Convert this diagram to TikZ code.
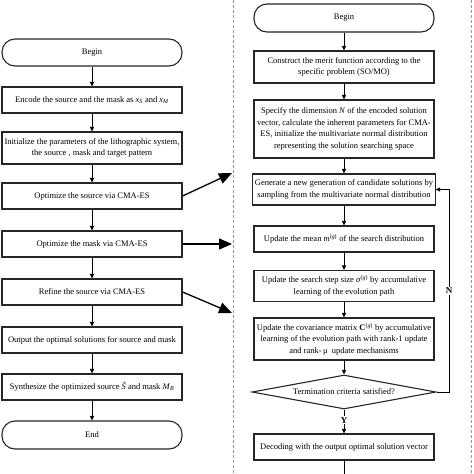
\documentclass[tikz,border=0pt]{standalone}
\usepackage{fontspec}
\setmainfont{Liberation Serif}
\usetikzlibrary{arrows.meta,shapes.geometric}
\begin{document}
\begin{tikzpicture}[x=1pt,y=-1pt,
  box/.style={draw=black!85, line width=1.1pt, rectangle, minimum width=180pt, align=center, inner sep=2pt, fill=white, font=\fontsize{8.5}{11.5}\selectfont},
  term/.style={box, rounded corners=13pt},
  dec/.style={draw=black!85, line width=1.1pt, diamond, minimum width=184pt, minimum height=34pt, inner sep=0pt, aspect=5, align=center, fill=white, font=\fontsize{8.5}{11.5}\selectfont},
  flow/.style={-{Triangle[length=4.5pt,width=4pt]}, line width=0.9pt},
  big/.style={-{Triangle[length=13pt,width=11pt]}, line width=1.3pt},
  guide/.style={draw=black!40, dash pattern=on 3pt off 2pt, line width=0.8pt},
  lab/.style={fill=white, inner sep=1pt, font=\fontsize{9}{10}\selectfont\bfseries}]
\useasboundingbox (0,0) rectangle (474,474);
\fill[white] (0,0) rectangle (474,474);
% guide lines
\draw[guide] (233,0) -- (233,474);
\draw[guide] (471,0) -- (471,474);
% left chart
\node[term, minimum height=27pt] (lb) at (92,52.5) {Begin};
\node[box, minimum height=26pt] (l1) at (92,100) {Encode the source and the mask as \textit{x}\textsubscript{\textit{S}} and \textit{x}\textsubscript{\textit{M}}};
\node[box, minimum height=32pt] (l2) at (92,148) {Initialize the parameters of the lithographic system,\\ the source , mask and target pattern};
\node[box, minimum height=26pt] (l3) at (92,196) {Optimize the source via CMA-ES};
\node[box, minimum height=26pt] (l4) at (92,244) {Optimize the mask via CMA-ES};
\node[box, minimum height=26pt] (l5) at (92,292) {Refine the source via CMA-ES};
\node[box, minimum height=26pt] (l6) at (92,340) {Output the optimal solutions for source and mask};
\node[box, minimum height=26pt] (l7) at (92,387) {Synthesize the optimized source \textit{Ŝ} and mask \textit{M}\textsubscript{\textit{B}}};
\node[term, minimum height=28pt] (le) at (92,435) {End};
\draw[flow] (lb) -- (l1);
\draw[flow] (l1) -- (l2);
\draw[flow] (l2) -- (l3);
\draw[flow] (l3) -- (l4);
\draw[flow] (l4) -- (l5);
\draw[flow] (l5) -- (l6);
\draw[flow] (l6) -- (l7);
\draw[flow] (l7) -- (le);
% big arrows
\coordinate (t1) at (232,173);
\coordinate (t2) at (232,244);
\coordinate (t3) at (232,313);
\draw[big] (l3.east) -- (t1);
\draw[big] (l4.east) -- (t2);
\draw[big] (l5.east) -- (t3);
% right chart
\node[term, minimum height=28pt] (rb) at (344,18) {Begin};
\node[box, minimum height=32pt] (r1) at (344,67) {Construct the merit function according to the\\ specific problem (SO/MO)};
\node[box, minimum height=58pt] (r2) at (344,129) {Specify the dimension \textit{N} of the encoded solution\\ vector, calculate the inherent parameters for CMA-\\ES, initialize the multivariate normal distribution\\ representing the solution searching space};
\node[box, minimum height=31pt] (r3) at (344,189.5) {Generate a new generation of candidate solutions by\\ sampling from the multivariate normal distribution};
\node[box, minimum height=26pt] (r4) at (344,239) {Update the mean \textit{m}\textsuperscript{(\textit{g})} of the search distribution};
\node[box, minimum height=31pt] (r5) at (344,286) {Update the search step size \textit{σ}\textsuperscript{(\textit{g})} by accumulative\\ learning of the evolution path};
\node[box, minimum height=42pt] (r6) at (344,339) {Update the covariance matrix \textbf{C}\textsuperscript{(\textit{g})} by accumulative\\ learning of the evolution path with rank-1 update\\ and rank-\,μ\ \ update mechanisms};
\node[dec] (rd) at (344,392) {Termination criteria satisfied?};
\node[box, minimum height=26pt] (r7) at (344,447) {Decoding with the output optimal solution vector};
\coordinate (rend) at (344,474);
\coordinate (nx) at (449,392);
\draw[flow] (rb) -- (r1);
\draw[flow] (r1) -- (r2);
\draw[flow] (r2) -- (r3);
\draw[flow] (r3) -- (r4);
\draw[flow] (r4) -- (r5);
\draw[flow] (r5) -- (r6);
\draw[flow] (r6) -- (rd);
\draw[flow] (rd) -- (r7) node[lab, pos=0.45] {Y};
\draw[line width=0.9pt] (r7) -- (rend);
\draw[flow] (rd.east) -- (nx) |- (r3.east) node[lab, pos=0.25] {N};
\end{tikzpicture}
\end{document}
